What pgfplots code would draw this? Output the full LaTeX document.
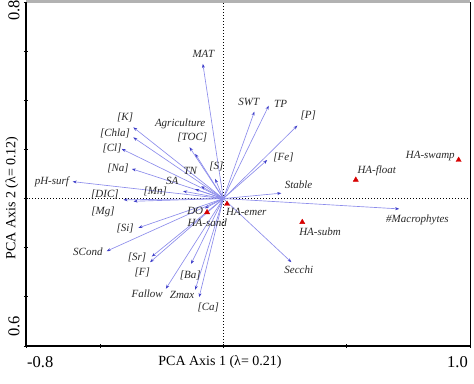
\documentclass[border=0pt]{standalone}
\usepackage{fontspec}
\setmainfont{Liberation Serif}
\usepackage{pgfplots}
\pgfplotsset{compat=1.18}
\usetikzlibrary{arrows.meta}
\definecolor{arrowline}{RGB}{140,140,235}
\definecolor{arrowhead}{RGB}{60,60,200}
\definecolor{tri}{RGB}{215,0,0}
\definecolor{labtxt}{RGB}{40,40,40}
\tikzset{lab/.style={font=\itshape\fontsize{11}{12}\selectfont, text=labtxt, inner sep=0pt}}
\begin{document}
\begin{tikzpicture}
\begin{axis}[
 scale only axis, width=444pt, height=344pt,
 xmin=-0.8, xmax=1.0, ymin=-0.6, ymax=0.8,
 xtick={-0.8,-0.5,0,0.5,1.0}, ytick={-0.6,-0.4,-0.2,0,0.2,0.4,0.6,0.8},
 xticklabels={}, yticklabels={},
 xtick pos=bottom, ytick pos=left,
 tick align=center, major tick length=4pt,
 tick style={black, line width=0.9pt},
 axis line style={draw=none},
 clip=false,
]
\draw[line width=4pt, gray!60] ([yshift=1pt]rel axis cs:0,1) -- ([yshift=1pt]rel axis cs:1,1);
\draw[line width=0.9pt] (rel axis cs:1,0) -- (rel axis cs:1,1);
\draw[line width=2pt] (rel axis cs:0,0) -- (rel axis cs:0,1);
\draw[line width=2pt] ([xshift=-1pt]rel axis cs:0,0) -- ([xshift=0.5pt]rel axis cs:1,0);
\draw[dotted, line width=1pt] (axis cs:0,-0.6) -- (axis cs:0,0.8);
\draw[dotted, line width=1pt] (axis cs:-0.8,0) -- (axis cs:1.0,0);

\addplot[arrowline, line width=0.65pt, -{Stealth[length=4pt,width=3pt,color=arrowhead]},
  quiver={u=\thisrow{u}, v=\thisrow{v}}] table {
x y u v
0 0 -0.083 0.548
0 0 -0.365 0.290
0 0 -0.365 0.249
0 0 -0.412 0.202
0 0 -0.371 0.121
0 0 -0.611 0.069
0 0 -0.137 0.209
0 0 -0.114 0.182
0 0 -0.090 0.050
0 0 -0.033 0.080
0 0 -0.114 0.038
0 0 -0.163 0.030
0 0 -0.405 -0.005
0 0 -0.364 -0.011
0 0 -0.344 -0.119
0 0 -0.473 -0.214
0 0 -0.290 -0.236
0 0 -0.297 -0.259
0 0 -0.131 -0.266
0 0 -0.233 -0.367
0 0 -0.114 -0.371
0 0 -0.098 -0.401
0 0 -0.075 -0.040
0 0 0.126 0.354
0 0 0.184 0.378
0 0 0.300 0.297
0 0 0.178 0.157
0 0 0.235 0.022
0 0 0.713 -0.042
0 0 0.276 -0.259
};

\addplot[only marks, mark=triangle*, mark size=3pt, color=tri] coordinates {
(-0.066,-0.056) (0.015,-0.022) (0.537,0.076) (0.954,0.157) (0.320,-0.096)
};

\node[lab] at (axis cs:-0.081,0.589) {MAT};
\node[lab] at (axis cs:-0.398,0.329) {[K]};
\node[lab] at (axis cs:-0.439,0.264) {[Chla]};
\node[lab] at (axis cs:-0.451,0.203) {[Cl]};
\node[lab] at (axis cs:-0.427,0.122) {[Na]};
\node[lab] at (axis cs:-0.695,0.069) {pH-surf};
\node[lab] at (axis cs:-0.175,0.305) {Agriculture};
\node[lab] at (axis cs:-0.126,0.248) {[TOC]};
\node[lab] at (axis cs:-0.134,0.114) {TN};
\node[lab] at (axis cs:-0.028,0.130) {[S]};
\node[lab] at (axis cs:-0.207,0.073) {SA};
\node[lab] at (axis cs:-0.276,0.028) {[Mn]};
\node[lab] at (axis cs:-0.480,0.018) {[DIC]};
\node[lab] at (axis cs:-0.488,-0.056) {[Mg]};
\node[lab] at (axis cs:-0.398,-0.121) {[Si]};
\node[lab] at (axis cs:-0.549,-0.218) {SCond};
\node[lab] at (axis cs:-0.350,-0.239) {[Sr]};
\node[lab] at (axis cs:-0.329,-0.300) {[F]};
\node[lab] at (axis cs:-0.134,-0.313) {[Ba]};
\node[lab] at (axis cs:-0.309,-0.388) {Fallow};
\node[lab] at (axis cs:-0.167,-0.392) {Zmax};
\node[lab] at (axis cs:-0.061,-0.442) {[Ca]};
\node[lab] at (axis cs:-0.114,-0.050) {DO};
\node[lab] at (axis cs:-0.065,-0.100) {HA-sand};
\node[lab] at (axis cs:0.093,-0.056) {HA-emer};
\node[lab] at (axis cs:0.103,0.392) {SWT};
\node[lab] at (axis cs:0.232,0.386) {TP};
\node[lab] at (axis cs:0.344,0.337) {[P]};
\node[lab] at (axis cs:0.244,0.168) {[Fe]};
\node[lab] at (axis cs:0.305,0.056) {Stable};
\node[lab] at (axis cs:0.622,0.111) {HA-float};
\node[lab] at (axis cs:0.839,0.175) {HA-swamp};
\node[lab] at (axis cs:0.787,-0.087) {\#Macrophytes};
\node[lab] at (axis cs:0.392,-0.137) {HA-subm};
\node[lab] at (axis cs:0.306,-0.290) {Secchi};

\node[font=\fontsize{16.5}{18}\selectfont, anchor=west, inner sep=0pt] at ([xshift=1pt,yshift=-16pt]rel axis cs:0,0) {-0.8};
\node[font=\fontsize{16.5}{18}\selectfont, anchor=east, inner sep=0pt] at ([xshift=-2pt,yshift=-16pt]rel axis cs:1,0) {1.0};
\node[font=\fontsize{16.5}{18}\selectfont, rotate=90, anchor=east, inner sep=0pt] at ([xshift=-12pt,yshift=2pt]rel axis cs:0,1) {0.8};
\node[font=\fontsize{16.5}{18}\selectfont, rotate=90, anchor=west, inner sep=0pt] at ([xshift=-12pt,yshift=9pt]rel axis cs:0,0) {0.6};
\node[font=\fontsize{14}{16}\selectfont, inner sep=0pt] at ([xshift=-28pt,yshift=-16pt]rel axis cs:0.5,0) {PCA Axis 1 (λ= 0.21)};
\node[font=\fontsize{14}{16}\selectfont, rotate=90, inner sep=0pt] at ([xshift=-14pt,yshift=-24pt]rel axis cs:0,0.5) {PCA Axis 2 (λ= 0.12)};

\coordinate (SW) at (rel axis cs:0,0);
\coordinate (NE) at (rel axis cs:1,1);
\end{axis}
\pgfresetboundingbox
\useasboundingbox ([shift={(-26pt,-37pt)}]SW) rectangle ([shift={(4pt,2pt)}]NE);
\end{tikzpicture}
\end{document}
